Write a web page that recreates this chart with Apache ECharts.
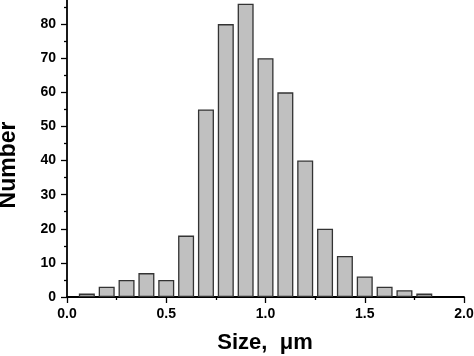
<!DOCTYPE html>
<html><head><meta charset="utf-8">
<script src="https://cdn.jsdelivr.net/npm/echarts@6/dist/echarts.min.js"></script>
<style>html,body{margin:0;padding:0;background:#fff}#c{width:474px;height:356px}</style>
</head><body><div id="c"></div>
<script>
const sizes = [0.1,0.2,0.3,0.4,0.5,0.6,0.7,0.8,0.9,1.0,1.1,1.2,1.3,1.4,1.5,1.6,1.7,1.8];
const counts = [1,3,5,7,5,18,55,80,86,70,60,40,20,12,6,3,2,1];
const xTitle = 'Size,  μm';
const yTitle = 'Number';

const chart = echarts.init(document.getElementById('c'));
const font = 'Liberation Sans, Arial, sans-serif';
chart.setOption({
  animation:false,
  grid:{left:67,right:10,top:-10,bottom:59,containLabel:false,outerBoundsMode:'none'},
  graphic:[
    {type:'text',x:9,y:165,rotation:Math.PI/2,
      style:{text:yTitle,font:'bold 23px Liberation Sans, Arial, sans-serif',fill:'#000',align:'center',verticalAlign:'middle'}},
    {type:'text',x:265,y:343,
      style:{text:xTitle,font:'bold 22px Liberation Sans, Arial, sans-serif',fill:'#000',align:'center',verticalAlign:'middle'}}
  ],
  xAxis:{type:'value',min:0,max:2,interval:0.5,
    axisLine:{lineStyle:{color:'#000',width:1.8}},
    axisTick:{inside:false,length:6,lineStyle:{color:'#000',width:1.3}},
    minorTick:{show:true,splitNumber:2,length:3,lineStyle:{color:'#000',width:1.3}},
    splitLine:{show:false},
    axisLabel:{margin:10,fontFamily:font,fontWeight:'bold',fontSize:14,color:'#000',formatter:v=>v.toFixed(1)}},
  yAxis:{type:'value',min:0,max:90,interval:10,
    axisLine:{show:true,lineStyle:{color:'#000',width:1.8}},
    axisTick:{show:true,inside:false,length:6,lineStyle:{color:'#000',width:1.3}},
    minorTick:{show:true,splitNumber:2,length:3,lineStyle:{color:'#000',width:1.3}},
    splitLine:{show:false},
    axisLabel:{margin:11,fontFamily:font,fontWeight:'bold',fontSize:14,color:'#000'}},
  series:[{type:'bar',barWidth:16,
    data:sizes.map((s,i)=>[s,counts[i]]),
    itemStyle:{color:'#c0c0c0',borderColor:'#333',borderWidth:1.3}}]
});
</script></body></html>
